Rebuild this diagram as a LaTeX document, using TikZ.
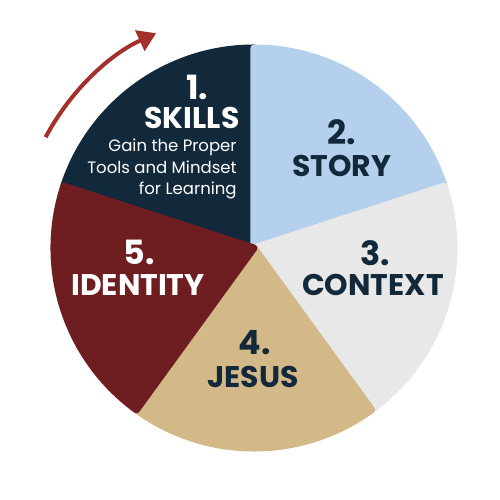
\documentclass[tikz,border=0pt]{standalone}
\usepackage{fontspec}
\setmainfont{Poppins}
\usetikzlibrary{arrows.meta}

\definecolor{skillsnavy}{HTML}{12293B}
\definecolor{storyblue}{HTML}{B5D0EC}
\definecolor{contextgray}{HTML}{E8E8E8}
\definecolor{jesustan}{HTML}{D2B987}
\definecolor{identityred}{HTML}{6E1E21}
\definecolor{arrowred}{HTML}{A3302B}

\tikzset{
  wedge/.style={draw=white, line width=4pt, line join=round},
  numlabel/.style={font=\fontsize{19}{19}\selectfont\bfseries, inner sep=0pt},
  titlelabel/.style={font=\fontsize{17}{17}\selectfont\bfseries, inner sep=0pt},
  sublabel/.style={font=\fontsize{9.4}{12.4}\selectfont, inner sep=0pt, align=right, text=white},
}

\begin{document}
\begin{tikzpicture}
  \useasboundingbox (-5.08,-5.04) rectangle (4.92,4.96);

  % Pie wedges (72 degrees each, clockwise from the top)
  \fill[wedge, skillsnavy]  (0,0) -- (90:4)  arc[start angle=90,  end angle=162, radius=4] -- cycle;
  \fill[wedge, storyblue]   (0,0) -- (18:4)  arc[start angle=18,  end angle=90,  radius=4] -- cycle;
  \fill[wedge, contextgray] (0,0) -- (-54:4) arc[start angle=-54, end angle=18,  radius=4] -- cycle;
  \fill[wedge, jesustan]    (0,0) -- (-126:4) arc[start angle=-126, end angle=-54, radius=4] -- cycle;
  \fill[wedge, identityred] (0,0) -- (162:4) arc[start angle=162, end angle=234, radius=4] -- cycle;

  % Direction arrow
  \draw[-{Triangle[length=0.36cm, width=0.44cm]}, line width=2.3pt, arrowred]
    (152:4.72) arc[start angle=152, end angle=114.5, radius=4.72];

  % 1. Skills
  \node[numlabel, text=white] (num1) at (-1.14,3.22) {1.};
  \node[titlelabel, text=white] (title1) at (-1.24,2.6) {SKILLS};
  \node[sublabel, anchor=east] (sub1) at (-0.34,1.58) {Gain the Proper\\Tools and Mindset\\for Learning};

  % 2. Story
  \node[numlabel, text=skillsnavy] (num2) at (1.76,2.32) {2.};
  \node[titlelabel, text=skillsnavy] (title2) at (1.76,1.64) {STORY};

  % 3. Context
  \node[numlabel, text=skillsnavy] (num3) at (2.42,-0.1) {3.};
  \node[titlelabel, text=skillsnavy] (title3) at (2.38,-0.74) {CONTEXT};

  % 4. Jesus
  \node[numlabel, text=skillsnavy] (num4) at (0.02,-1.9) {4.};
  \node[titlelabel, text=skillsnavy] (title4) at (-0.02,-2.58) {JESUS};

  % 5. Identity
  \node[numlabel, text=white] (num5) at (-2.3,-0.08) {5.};
  \node[titlelabel, text=white] (title5) at (-2.32,-0.74) {IDENTITY};
\end{tikzpicture}
\end{document}
